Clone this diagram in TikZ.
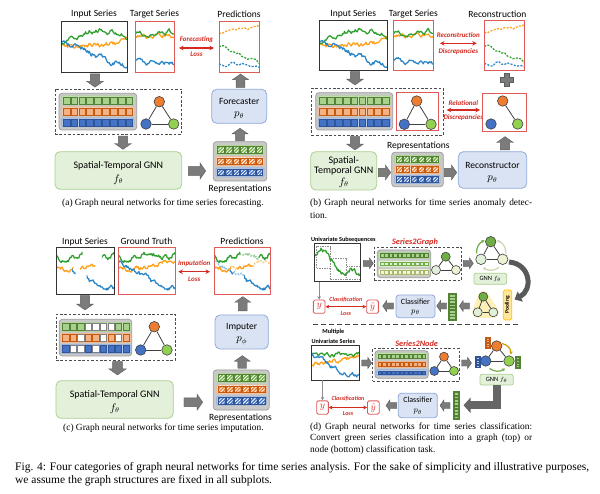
\documentclass[tikz,border=0pt]{standalone}
\usepackage{fontspec}
\setmainfont{Liberation Serif}
\newfontfamily\labf{Carlito}
\usetikzlibrary{arrows.meta,patterns.meta,calc}
\definecolor{sgc}{HTML}{2FA02F}
\definecolor{soc}{HTML}{FF9F1A}
\definecolor{sbc}{HTML}{2A86C8}
\definecolor{redb}{HTML}{E05A5A}
\definecolor{redt}{HTML}{D42A20}
\definecolor{grayf}{HTML}{C9C9C9}
\definecolor{grayd}{HTML}{9A9A9A}
\definecolor{gnnf}{HTML}{E3F0DA}
\definecolor{gnnd}{HTML}{A9D18E}
\definecolor{pbf}{HTML}{DAE3F3}
\definecolor{pbd}{HTML}{8FAADC}
\definecolor{cgf}{HTML}{A9D18E}
\definecolor{cgd}{HTML}{548235}
\definecolor{cof}{HTML}{F4B183}
\definecolor{cod}{HTML}{C55A11}
\definecolor{cbf}{HTML}{4472C4}
\definecolor{cbd}{HTML}{2F5597}
\definecolor{rgf}{HTML}{C5E0B4}
\definecolor{rgd}{HTML}{A9D18E}
\definecolor{rof}{HTML}{F8CBAD}
\definecolor{rod}{HTML}{F4B183}
\definecolor{rbf}{HTML}{B4C7E7}
\definecolor{rbd}{HTML}{8FAADC}
\definecolor{nor}{HTML}{ED7D31}
\definecolor{nbl}{HTML}{4472C4}
\definecolor{ngr}{HTML}{92D050}
\definecolor{ndg}{HTML}{70AD47}
\definecolor{npale}{HTML}{E2F0D9}
\definecolor{npy}{HTML}{EEF2D2}
\definecolor{arrf}{HTML}{7B7B7B}
\definecolor{arrd}{HTML}{5E5E5E}
\definecolor{glowc}{HTML}{FFF0B8}
\definecolor{poolf}{HTML}{FFE699}
\definecolor{poold}{HTML}{FFC000}
\definecolor{goldc}{HTML}{C9A000}
\definecolor{paleb}{HTML}{D2D2B0}
\definecolor{r2f}{HTML}{EAF4E2}
\definecolor{r2d}{HTML}{C5E0B4}
\definecolor{r3f}{HTML}{F4F7E4}
\definecolor{r3d}{HTML}{D5DDB0}
\definecolor{c2f}{HTML}{E2F0D9}
\definecolor{c2d}{HTML}{70AD47}
\definecolor{c3f}{HTML}{F2F5DC}
\definecolor{c3d}{HTML}{A9B870}

% time series: W, N, trend (in \tvv), noise, seed, style
\newcommand\tsl[6]{%
  \pgfmathsetseed{#5}%
  \def\tvv{0}\pgfmathsetmacro\tsyy{#3}\xdef\tsyy{\tsyy}%
  \draw[#6] (0,\tsyy) \foreach \ii in {1,...,#2}{\pgfextra{%
      \pgfmathsetmacro\tvv{\ii/#2}%
      \pgfmathsetmacro\tsaa{#3}%
      \pgfmathsetmacro\tsbb{\tsyy+0.3*(\tsaa-\tsyy)+1.3*#4*rand}%
      \xdef\tsyy{\tsbb}%
      \pgfmathsetmacro\tsxx{#1*\ii/#2}\xdef\tsxx{\tsxx}}
    -- (\tsxx,\tsyy)};%
}
% block arrow: x, y, angle, length, head half width
\newcommand\barr[5]{%
  \begin{scope}[shift={(#1,#2)}, rotate=#3]
    \pgfmathsetmacro\bL{#4/2}\pgfmathsetmacro\bH{#4/2-0.7*#5}\pgfmathsetmacro\bW{0.55*#5}%
    \filldraw[fill=arrf, draw=arrd, line width=0.4, line join=miter] (-\bL,-\bW) -- (\bH,-\bW) -- (\bH,-#5) -- (\bL,0) -- (\bH,#5) -- (\bH,\bW) -- (-\bL,\bW) -- cycle;
  \end{scope}}
\newcommand\frcell[4]{\draw[#1] (#2,#3) rectangle ++(#4,#4);}
% feature row: xleft, ytop, cell size, pitch, row style, cell style list
\newcommand\frow[6]{%
  \foreach \sty [count=\kk] in {#6} {\xdef\frn{\kk}}%
  \pgfmathsetmacro\frw{3.2+(\frn-1)*#4+#3}%
  \draw[#5] (#1,#2) rectangle ++(\frw,{#3+2.4});%
  \foreach \sty [count=\kk from 0] in {#6} {%
    \pgfmathsetmacro\frx{#1+1.6+\kk*#4}%
    \pgfmathsetmacro\fry{#2+1.2}%
    \expandafter\frcell\expandafter{\sty}{\frx}{\fry}{#3}}%
}
% vertical vector: x, ytop, w, h, n, bg style, cell style
\newcommand\vvec[7]{%
  \draw[#6] (#1,#2) rectangle ++(#3,#4);
  \pgfmathsetmacro\vcp{(#4-1.2)/#5}%
  \foreach \kk in {1,...,#5}{%
    \pgfmathsetmacro\vcy{#2+0.6+(\kk-1)*\vcp+0.3}%
    \pgfmathsetmacro\vcx{#1+0.9}%
    \pgfmathsetmacro\vcw{#3-1.8}%
    \pgfmathsetmacro\vch{\vcp-0.6}%
    \draw[#7] (\vcx,\vcy) rectangle ++(\vcw,\vch);}%
}
% rectangle node: style, x1, y1, x2, y2, name
\newcommand\rbx[6]{%
  \node[#1, inner sep=0, outer sep=0, anchor=north west, minimum width={(#4)-(#2)}, minimum height={(#5)-(#3)}] (#6) at (#2,#3) {};}

\newcommand\inAB[1]{%
  \tsl{#1}{70}{24-\tvv-6*max(\tvv-0.8,0)/0.2}{1.5}{12}{so}
  \tsl{#1}{70}{22-12*min(\tvv*3,1)+6*max(\tvv-0.8,0)/0.2}{1.7}{11}{sg}
  \tsl{#1}{70}{21+26*\tvv}{1.7}{13}{sb}}
\newcommand\tgAB[1]{%
  \tsl{#1}{40}{15+2*sin(\tvv*400)}{1.4}{22}{so}
  \tsl{#1}{40}{13-2*\tvv}{1.5}{21}{sg}
  \tsl{#1}{40}{41+2*\tvv}{1.5}{23}{sb}}
\newcommand\prAB[1]{%
  \tsl{#1}{14}{12-10*\tvv+7*exp(-(((\tvv-0.72)/0.08)^2))}{1.0}{31}{so,dsh}
  \tsl{#1}{14}{26+21*\tvv}{1.8}{32}{sg,dsh}
  \tsl{#1}{14}{43+3*sin(\tvv*900)}{1.5}{33}{sb,dsh}}
\newcommand\scg[2]{\tsl{#1}{66}{9-3*\tvv+3*sin(\tvv*540)}{1.7}{41}{#2}}
\newcommand\sco[2]{\tsl{#1}{66}{20-4*\tvv+2*sin(\tvv*300)}{1.5}{42}{#2}}
\newcommand\scb[2]{\tsl{#1}{66}{12+28*min(\tvv*1.4,1)}{1.7}{43}{#2}}
\newcommand\maskg[1]{\clip (-2,-5) rectangle ({0.46*#1},60) ({0.79*#1},-5) rectangle ({#1+2},60);}
\newcommand\masko[1]{\clip (-2,-5) rectangle ({0.3*#1},60) ({0.41*#1},-5) rectangle ({0.68*#1},60);}
\newcommand\maskb[1]{\clip ({0.28*#1},-5) rectangle ({0.34*#1},60) ({0.53*#1},-5) rectangle ({#1+2},60);}

\begin{document}
\begin{tikzpicture}[x=1pt,y=-1pt,
  kbox/.style={draw=black!80, line width=0.9},
  rbox/.style={draw=redb, line width=0.9},
  dbox/.style={draw=black!70, dash pattern=on 2.6pt off 1.8pt, line width=0.8},
  sbox/.style={draw=black!45, dash pattern=on 1.5pt off 1pt, line width=0.6},
  grayb/.style={draw=grayd, fill=grayf, rounded corners=3, line width=0.7},
  gnnb/.style={draw=gnnd, fill=gnnf, rounded corners=5, line width=0.8},
  gnnbs/.style={draw=gnnd, fill=gnnf, rounded corners=2, line width=0.7},
  pbox/.style={draw=pbd, fill=pbf, rounded corners=5, line width=0.8},
  pboxs/.style={draw=pbd, fill=pbf, rounded corners=3, line width=0.8},
  poolb/.style={draw=poold, fill=poolf, rounded corners=1.5, line width=0.7},
  ybox/.style={draw=redb, rounded corners=1.5, line width=0.8, minimum width=11.7pt, minimum height=13.3pt, inner sep=0, text=redt, font=\fontsize{10}{10}\selectfont},
  lab/.style={font=\labf\fontsize{9.5}{11}\selectfont, inner sep=0},
  labg/.style={font=\labf\fontsize{10}{11}\selectfont, inner sep=0},
  labm/.style={font=\fontsize{10.5}{11}\selectfont, inner sep=0},
  labs/.style={font=\labf\fontsize{8}{9}\selectfont, inner sep=0},
  labms/.style={font=\fontsize{8}{9}\selectfont, inner sep=0},
  labx/.style={font=\labf\fontsize{6.5}{7}\selectfont, inner sep=0},
  labt/.style={font=\labf\bfseries\fontsize{6.2}{7}\selectfont, inner sep=0},
  rtxt/.style={font=\labf\bfseries\itshape\fontsize{7}{8}\selectfont, text=redt, inner sep=0},
  rtxs/.style={font=\labf\bfseries\itshape\fontsize{6}{7}\selectfont, text=redt, inner sep=0},
  s2t/.style={font=\labf\bfseries\itshape\fontsize{8.3}{9}\selectfont, text=redt, inner sep=0},
  rarr/.style={draw=redt, line width=1.1, {Stealth[length=4.5pt,width=4.5pt]}-{Stealth[length=4.5pt,width=4.5pt]}},
  rarrs/.style={draw=redt, line width=1, {Stealth[length=3.8pt,width=3.8pt]}-{Stealth[length=3.8pt,width=3.8pt]}},
  tharr/.style={draw=black!45, line width=0.8, -{Stealth[length=3.5pt,width=3.5pt]}},
  garrow/.style={draw=black!65, line width=5, -{Triangle[length=6.5pt,width=11pt]}},
  Larrow/.style={draw=black!60, line width=8, line join=miter, -{Triangle[length=7pt,width=15pt]}},
  garc/.style={draw=ndg, line width=1.2, -{Stealth[length=3pt,width=3.5pt]}},
  parc/.style={draw=paleb, line width=1.2, -{Stealth[length=3pt,width=3.5pt]}},
  oarc/.style={draw=goldc, line width=1.2, -{Stealth[length=3pt,width=3.5pt]}},
  sepl/.style={draw=black!75, line width=1.3, dash pattern=on 5pt off 3pt},
  gnode/.style={circle, draw=black!75, line width=0.6, minimum size=10.5pt, inner sep=0},
  gnodes/.style={gnode, minimum size=9pt},
  gedge/.style={draw=black!75, line width=0.8},
  subcap/.style={font=\fontsize{9.4}{11}\selectfont, inner sep=0, anchor=west},
  figcap/.style={inner sep=0, anchor=west},
  sg/.style={draw=sgc, line width=1.25, line join=round},
  so/.style={draw=soc, line width=1.25, line join=round},
  sb/.style={draw=sbc, line width=1.25, line join=round},
  dsh/.style={dash pattern=on 2pt off 1.4pt},
  rg/.style={draw=rgd, fill=rgf, rounded corners=1.2, line width=0.5},
  ro/.style={draw=rod, fill=rof, rounded corners=1.2, line width=0.5},
  rb/.style={draw=rbd, fill=rbf, rounded corners=1.2, line width=0.5},
  r2/.style={draw=r2d, fill=r2f, rounded corners=1, line width=0.5},
  r3/.style={draw=r3d, fill=r3f, rounded corners=1, line width=0.5},
  cg/.style={draw=cgd, fill=cgf, line width=0.4},
  co/.style={draw=cod, fill=cof, line width=0.4},
  cb/.style={draw=cbd, fill=cbf, line width=0.4},
  cw/.style={draw=black!50, fill=white, line width=0.4},
  c2/.style={draw=c2d, fill=c2f, line width=0.4},
  c3/.style={draw=c3d, fill=c3f, line width=0.4},
  hg/.style={draw=cgd, line width=0.4, preaction={fill=ndg}, pattern={Lines[angle=45,distance=2.4pt,line width=0.8pt]}, pattern color=white},
  ho/.style={draw=cod, line width=0.4, preaction={fill=nor}, pattern={Lines[angle=45,distance=2.4pt,line width=0.8pt]}, pattern color=white},
  hb/.style={draw=cbd, line width=0.4, preaction={fill=cbf}, pattern={Lines[angle=45,distance=2.4pt,line width=0.8pt]}, pattern color=white},
  vg/.style={draw=cgd, fill=ndg, line width=0.5},
  vgc/.style={draw=cgd, fill=cgf, line width=0.3},
  vo/.style={draw=cod, fill=nor, line width=0.5},
  voc/.style={draw=cod, fill=cof, line width=0.3},
  vb/.style={draw=cbd, fill=cbf, line width=0.5},
  vbc/.style={draw=cbd, fill=rbf, line width=0.3}
]
\useasboundingbox (0,0) rectangle (600,494);
\fill[white] (0,0) rectangle (600,494);

%%%%%%%%%%%%%%%% PANEL A
\node[lab] (a-l1) at (94,14) {Input Series};
\node[lab] (a-l2) at (154.5,14) {Target Series};
\node[lab] (a-l3) at (239,14) {Predictions};
\begin{scope}[shift={(61,21)}]\clip (0,0) rectangle (66,51); \inAB{66}\end{scope}
\rbx{kbox}{61}{21}{127}{72}{a-in}
\begin{scope}[shift={(135,21)}]\clip (0,0) rectangle (39,51); \tgAB{39}\end{scope}
\rbx{rbox}{135}{21}{174}{72}{a-tg}
\begin{scope}[shift={(219,21)}]\clip (0,0) rectangle (40,51); \prAB{40}\end{scope}
\rbx{rbox}{219}{21}{259}{72}{a-pr}
\coordinate (a-f1) at (179,48);
\coordinate (a-f2) at (214,48);
\draw[rarr] (a-f1) -- (a-f2);
\node[rtxt] (a-ft1) at (196.5,39.5) {Forecasting};
\node[rtxt] (a-ft2) at (196.5,54) {Loss};
\barr{95}{80.5}{-90}{13.3}{8.3}
\rbx{dbox}{55}{89}{181.7}{134.3}{a-dash}
\rbx{grayb}{59}{93.3}{136.7}{130}{a-gray}
\frow{61.5}{96}{6.6}{7.86}{rg}{cg,cg,cg,cg,cg,cg,cg,cg,cg}
\frow{61.5}{107}{6.6}{7.86}{ro}{co,co,co,co,co,co,co,co,co}
\frow{61.5}{118}{6.6}{7.86}{rb}{cb,cb,cb,cb,cb,cb,cb,cb,cb}
\node[gnode, fill=nor] (a-go) at (159.3,101.7) {};
\node[gnode, fill=nbl] (a-gb) at (146,124) {};
\node[gnode, fill=ngr] (a-gg) at (173.7,124) {};
\draw[gedge] (a-go) -- (a-gb); \draw[gedge] (a-gb) -- (a-gg); \draw[gedge] (a-gg) -- (a-go);
\barr{123}{142.7}{-90}{13.3}{8.3}
\rbx{gnnb}{55}{151.7}{181.7}{189.3}{a-gnn}
\node[labg] (a-gnnt) at (118.3,165.7) {Spatial-Temporal GNN};
\node[labm] (a-gnnf) at (118.3,179.5) {$f_\theta$};
\barr{197}{171}{0}{17.4}{8}
\rbx{grayb}{213.3}{141.7}{266.7}{181}{a-rep}
\frow{215.8}{145.3}{6.6}{7.7}{rg}{hg,hg,hg,hg,hg,hg}
\frow{215.8}{156.6}{6.6}{7.7}{ro}{ho,ho,ho,ho,ho,ho}
\frow{215.8}{167.9}{6.6}{7.7}{rb}{hb,hb,hb,hb,hb,hb}
\node[lab] (a-rept) at (240,188.5) {Representations};
\barr{240}{134.5}{90}{12.4}{8}
\rbx{pbox}{211.7}{89.3}{266.7}{123.3}{a-fore}
\node[lab] (a-foret) at (239.2,101.7) {Forecaster};
\node[labm] (a-forep) at (239.2,115.5) {$p_\theta$};
\barr{240.5}{80.7}{90}{13.3}{8}
\node[subcap] (a-cap) at (62,203.5) {(a) Graph neural networks for time series forecasting.};

%%%%%%%%%%%%%%%% PANEL B
\node[lab] (b-l1) at (353.3,14) {Input Series};
\node[lab] (b-l2) at (413.3,14) {Target Series};
\node[lab] (b-l3) at (497.3,14) {Reconstruction};
\begin{scope}[shift={(319.3,20.5)}]\clip (0,0) rectangle (68,50); \inAB{68}\end{scope}
\rbx{kbox}{319.3}{20.5}{387.3}{70.5}{b-in}
\begin{scope}[shift={(393.3,20.5)}]\clip (0,0) rectangle (40,50); \tgAB{40}\end{scope}
\rbx{rbox}{393.3}{20.5}{433.3}{70.5}{b-tg}
\begin{scope}[shift={(484.3,20.5)}]\clip (0,0) rectangle (40,50); \prAB{40}\end{scope}
\rbx{rbox}{484.3}{20.5}{524.3}{70.5}{b-pr}
\coordinate (b-r1) at (440,43.3);
\coordinate (b-r2) at (476.7,43.3);
\draw[rarr] (b-r1) -- (b-r2);
\node[rtxt] (b-rt1) at (458.3,35) {Reconstruction};
\node[rtxt] (b-rt2) at (458.3,51.7) {Discrepancies};
\barr{355}{78.3}{-90}{13.3}{8.3}
\filldraw[fill=arrf, draw=arrd, line width=0.4] (500,77.7) -- (504.4,77.7) -- (504.4,73.3) -- (509,73.3) -- (509,77.7) -- (513.4,77.7) -- (513.4,82.3) -- (509,82.3) -- (509,86.7) -- (504.4,86.7) -- (504.4,82.3) -- (500,82.3) -- cycle;
\rbx{dbox}{311.7}{88.3}{443.3}{135}{b-dash}
\rbx{grayb}{315.7}{92.7}{392.7}{130}{b-gray}
\frow{318}{96}{6.6}{7.86}{rg}{cg,cg,cg,cg,cg,cg,cg,cg,cg}
\frow{318}{107}{6.6}{7.86}{ro}{co,co,co,co,co,co,co,co,co}
\frow{318}{118}{6.6}{7.86}{rb}{cb,cb,cb,cb,cb,cb,cb,cb,cb}
\rbx{rbox}{396}{92.7}{438.3}{130}{b-gbox}
\node[gnode, fill=nor] (b-go) at (416.7,101) {};
\node[gnode, fill=nbl] (b-gb) at (404.3,124.3) {};
\node[gnode, fill=ngr] (b-gg) at (431,124.3) {};
\draw[gedge] (b-go) -- (b-gb); \draw[gedge] (b-gb) -- (b-gg); \draw[gedge] (b-gg) -- (b-go);
\coordinate (b-d1) at (446.7,110);
\coordinate (b-d2) at (480,110);
\draw[rarr] (b-d1) -- (b-d2);
\node[rtxt] (b-dt1) at (463.3,103) {Relational};
\node[rtxt] (b-dt2) at (463.3,117.3) {Discrepancies};
\rbx{rbox}{482.7}{93.3}{526}{131.7}{b-rbox}
\node[gnode, fill=nor] (b-ro) at (502.7,101) {};
\node[gnode, fill=nbl] (b-rb) at (491,124) {};
\node[gnode, fill=ngr] (b-rg) at (517.7,124) {};
\draw[gedge] (b-ro) -- (b-rg);
\barr{505}{143.3}{90}{13.3}{8.3}
\barr{355}{143.3}{-90}{13.3}{8.3}
\rbx{gnnb}{310.7}{151.7}{376.7}{190}{b-gnn}
\node[labg] (b-gnnt1) at (343.7,160.7) {Spatial-};
\node[labg] (b-gnnt2) at (343.7,171) {Temporal GNN};
\node[labm] (b-gnnf) at (343.7,182.3) {$f_\theta$};
\barr{384.5}{172.5}{0}{12.4}{7.5}
\node[lab] (b-rept) at (418.3,145.5) {Representations};
\rbx{grayb}{391.7}{152.3}{443.3}{186.7}{b-rep}
\frow{394.5}{155.3}{6}{7.3}{rg}{hg,hg,hg,hg,hg,hg}
\frow{394.5}{165.3}{6}{7.3}{ro}{ho,ho,ho,ho,ho,ho}
\frow{394.5}{175.3}{6}{7.3}{rb}{hb,hb,hb,hb,hb,hb}
\barr{450.5}{172.5}{0}{12.4}{7.5}
\rbx{pbox}{458.3}{151.7}{526.7}{188.3}{b-rec}
\node[lab] (b-rect) at (492.5,165.7) {Reconstructor};
\node[labm] (b-recp) at (492.5,179.5) {$p_\theta$};
\node[subcap] (b-cap1) at (310,203.5) {\makebox[222pt][s]{(b) Graph neural networks for time series anomaly detec-}};
\node[subcap] (b-cap2) at (310,215) {tion.};

%%%%%%%%%%%%%%%% PANEL C
\node[lab] (c-l1) at (85,241.7) {Input Series};
\node[lab] (c-l2) at (146.5,241.7) {Ground Truth};
\node[lab] (c-l3) at (242,241.7) {Predictions};
\begin{scope}[shift={(56,247.7)}]\clip (0,0) rectangle (58,46.6);
  \begin{scope}\masko{58}\sco{58}{so}\end{scope}
  \begin{scope}\maskg{58}\scg{58}{sg}\end{scope}
  \begin{scope}\maskb{58}\scb{58}{sb}\end{scope}
\end{scope}
\rbx{kbox}{56}{247.7}{114}{294.3}{c-in}
\begin{scope}[shift={(118.3,247.7)}]\clip (0,0) rectangle (56.7,46.6);
  \sco{56.7}{so}\scg{56.7}{sg}\scb{56.7}{sb}
\end{scope}
\rbx{rbox}{118.3}{247.7}{175}{294.3}{c-gt}
\begin{scope}[shift={(214,247.7)}]\clip (0,0) rectangle (56.7,46.6);
  \sco{56.7}{so,dsh,opacity=0.55}\scg{56.7}{sg,dsh,opacity=0.55}\scb{56.7}{sb,dsh,opacity=0.55}
  \begin{scope}\masko{56.7}\sco{56.7}{so}\end{scope}
  \begin{scope}\maskg{56.7}\scg{56.7}{sg}\end{scope}
  \begin{scope}\maskb{56.7}\scb{56.7}{sb}\end{scope}
\end{scope}
\rbx{rbox}{214}{247.7}{270.7}{294.3}{c-pr}
\coordinate (c-i1) at (178.3,271.7);
\coordinate (c-i2) at (210,271.7);
\draw[rarr] (c-i1) -- (c-i2);
\node[rtxt] (c-it1) at (194.2,263.3) {Imputation};
\node[rtxt] (c-it2) at (194.2,279.5) {Loss};
\barr{85}{302.8}{-90}{14.3}{8.3}
\rbx{dbox}{56}{314.3}{175}{360}{c-dash}
\rbx{grayb}{59.3}{319.3}{131.7}{356}{c-gray}
\frow{60.8}{322.5}{6.4}{7.55}{rg}{cg,cg,cg,cw,cw,cw,cw,cg,cg}
\frow{60.8}{333.5}{6.4}{7.55}{ro}{co,co,cw,co,co,cw,co,cw,co}
\frow{60.8}{344.5}{6.4}{7.55}{rb}{cb,cw,cw,cb,cw,cb,cb,cb,cb}
\node[gnode, fill=nor] (c-go) at (154.3,326.7) {};
\node[gnode, fill=nbl] (c-gb) at (140.7,350) {};
\node[gnode, fill=ngr] (c-gg) at (167,350) {};
\draw[gedge] (c-go) -- (c-gb); \draw[gedge] (c-gb) -- (c-gg); \draw[gedge] (c-gg) -- (c-go);
\barr{117.5}{368.3}{-90}{13.3}{8.8}
\rbx{gnnb}{56}{380.7}{173.3}{418.3}{c-gnn}
\node[labg] (c-gnnt) at (114.7,395) {Spatial-Temporal GNN};
\node[labm] (c-gnnf) at (114.7,408.5) {$f_\theta$};
\barr{193.3}{402.2}{0}{18.7}{8}
\rbx{grayb}{213.3}{370}{269.3}{410}{c-rep}
\frow{216.5}{373.5}{6.6}{8}{rg}{hg,hg,hg,hg,hg,hg}
\frow{216.5}{384.8}{6.6}{8}{ro}{ho,ho,ho,ho,ho,ho}
\frow{216.5}{396.1}{6.6}{8}{rb}{hb,hb,hb,hb,hb,hb}
\node[lab] (c-rept) at (240.5,417.5) {Representations};
\barr{242.3}{362}{90}{12.6}{8}
\rbx{pbox}{215}{315}{268.3}{349}{c-imp}
\node[lab] (c-impt) at (241.7,327.3) {Imputer};
\node[labm] (c-impp) at (241.7,341) {$p_\phi$};
\barr{242.8}{303.8}{90}{14.3}{8}
\node[subcap] (c-cap) at (63,428) {(c) Graph neural networks for time series imputation.};

%%%%%%%%%%%%%%%% PANEL D (top)
\node[labt] (d-l1) at (343.3,239.6) {Univariate Subsequences};
\begin{scope}[shift={(314,243.5)}]
  \clip (0,0) rectangle (46.7,38.2);
  \draw[sbox] (2,3.2) rectangle (16.7,24.8);
  \draw[sbox] (16.7,14.8) rectangle (32.7,35.5);
  \draw[sbox] (32.7,23.2) rectangle (46,35.5);
  \tsl{46.7}{60}{12-7*min(\tvv/0.15,1)+26*max(min((\tvv-0.15)/0.4,1),0)-5*exp(-(((\tvv-0.78)/0.07)^2))}{1.4}{51}{sg}
\end{scope}
\rbx{kbox}{314}{243.5}{360.7}{281.7}{d-s1}
\barr{368.3}{263.3}{0}{10}{5.5}
\node[s2t] (d-s2g) at (415,242.7) {Series2Graph};
\rbx{dbox}{374}{247.7}{461.7}{280}{d-dash1}
\rbx{grayb}{377.3}{250}{430.7}{277.7}{d-gray1}
\frow{378.6}{252.5}{3.6}{4.4}{rg}{cg,cg,cg,cg,cg,cg,cg,cg,cg,cg,cg}
\frow{378.6}{260.8}{3.6}{4.4}{r2}{c2,c2,c2,c2,c2,c2,c2,c2,c2,c2,c2}
\frow{378.6}{269.1}{3.6}{4.4}{r3}{c3,c3,c3,c3,c3,c3,c3,c3,c3,c3,c3}
\node[gnodes, fill=ndg] (d-gt) at (445.7,256.7) {};
\node[gnodes, fill=npale] (d-gl) at (436,270) {};
\node[gnodes, fill=npy] (d-gr) at (456,270) {};
\draw[gedge] (d-gt) -- (d-gl); \draw[gedge] (d-gl) -- (d-gr); \draw[gedge] (d-gr) -- (d-gt);
\barr{468.3}{263.3}{0}{10}{5.5}
\node[gnode, fill=ndg] (d-tt) at (490.7,241.7) {};
\node[gnode, fill=npale] (d-tl) at (481,259.3) {};
\node[gnode, fill=npy] (d-tr) at (502.7,259.3) {};
\draw[gedge] (d-tt) -- (d-tl); \draw[gedge] (d-tl) -- (d-tr); \draw[gedge] (d-tr) -- (d-tt);
\coordinate (d-ga1) at (476.5,253.5);
\coordinate (d-ga2) at (484.5,240.5);
\draw[garc] (d-ga1) to[bend left=35] (d-ga2);
\coordinate (d-pa1) at (497,240.5);
\coordinate (d-pa2) at (506,253.5);
\draw[parc] (d-pa2) to[bend right=35] (d-pa1);
\coordinate (d-pb1) at (499,267.5);
\coordinate (d-pb2) at (483,267.5);
\draw[parc] (d-pb1) to[bend left=35] (d-pb2);
\rbx{gnnbs}{474}{273.3}{506.7}{284.3}{d-gnn1}
\node[labx] (d-gnn1t) at (d-gnn1) {GNN $f_\theta$};
\coordinate (d-ca1) at (509,262);
\coordinate (d-ca2) at (514.5,299.5);
\draw[garrow] (d-ca1) .. controls (531,264) and (533,290) .. (d-ca2);
\rbx{poolb}{503.3}{290}{511.7}{320}{d-pool}
\node[labt, rotate=90, font=\labf\bfseries\fontsize{5.6}{6}\selectfont] (d-poolt) at (d-pool) {Pooling};
\coordinate (d-pt) at (483.3,296.7);
\coordinate (d-pl) at (477.7,312.3);
\coordinate (d-pr) at (493.3,312.3);
\filldraw[fill=glowc, draw=glowc, line width=11, line join=round] (d-pt) -- (d-pl) -- (d-pr) -- cycle;
\node[gnodes, fill=ndg] (d-ptn) at (d-pt) {};
\node[gnodes, fill=npale] (d-pln) at (d-pl) {};
\node[gnodes, fill=npale] (d-prn) at (d-pr) {};
\draw[gedge] (d-ptn) -- (d-pln); \draw[gedge] (d-pln) -- (d-prn); \draw[gedge] (d-prn) -- (d-ptn);
\barr{464.3}{306}{180}{10}{5.5}
\vvec{448.3}{293.3}{7.7}{26.7}{8}{vg}{vgc}
\barr{441.7}{306}{180}{10}{5.5}
\rbx{pboxs}{396}{295}{435}{317.7}{d-cls1}
\node[labs] (d-cls1t) at (415.5,301.5) {Classifier};
\node[labms] (d-cls1p) at (415.5,312.3) {$p_\theta$};
\barr{388}{306}{180}{10.6}{5.5}
\node[ybox] (d-y1) at (319.2,306.7) {$y$};
\node[ybox] (d-yh1) at (372.5,306.7) {$\hat{y}$};
\draw[rarrs] (d-y1) -- (d-yh1);
\node[rtxs] (d-ct1) at (345.8,300) {Classification};
\node[rtxs] (d-ct2) at (345.8,313.5) {Loss};
\draw[tharr] (d-s1.south -| d-y1) -- (d-y1);
\coordinate (d-sep1) at (313.3,324.3);
\coordinate (d-sep2) at (518.3,324.3);
\draw[sepl] (d-sep1) -- (d-sep2);

%%%%%%%%%%%%%%%% PANEL D (bottom)
\node[labt] (d-l2) at (333.3,332.3) {Multiple};
\node[labt] (d-l3) at (333.3,341) {Univariate Series};
\begin{scope}[shift={(311.7,345)}]\clip (0,0) rectangle (47.6,35);
  \tsl{47.6}{56}{20-9*\tvv}{1.4}{62}{so}
  \tsl{47.6}{56}{10-2*\tvv}{1.4}{61}{sg}
  \tsl{47.6}{56}{8+22*min(\tvv*1.6,1)}{1.4}{63}{sb}
\end{scope}
\rbx{kbox}{311.7}{345}{359.3}{380}{d-s2}
\barr{366.7}{363}{0}{10}{5.5}
\node[s2t] (d-s2n) at (416.7,343.3) {Series2Node};
\rbx{dbox}{372.7}{348.3}{459.3}{381}{d-dash2}
\rbx{grayb}{375}{350.7}{428.3}{378.3}{d-gray2}
\frow{376.3}{353}{3.6}{4.4}{rg}{cg,cg,cg,cg,cg,cg,cg,cg,cg,cg,cg}
\frow{376.3}{361.3}{3.6}{4.4}{ro}{co,co,co,co,co,co,co,co,co,co,co}
\frow{376.3}{369.6}{3.6}{4.4}{rb}{cb,cb,cb,cb,cb,cb,cb,cb,cb,cb,cb}
\node[gnodes, fill=nor] (d-no) at (444,356.7) {};
\node[gnodes, fill=nbl] (d-nb) at (434.3,371) {};
\node[gnodes, fill=ngr] (d-ng) at (454,371) {};
\draw[gedge] (d-no) -- (d-nb); \draw[gedge] (d-nb) -- (d-ng); \draw[gedge] (d-ng) -- (d-no);
\barr{466.5}{363}{0}{10}{5.5}
\node[gnode, fill=nor] (d-bo) at (496.7,346) {};
\node[gnode, fill=nbl] (d-bb) at (485.7,361) {};
\node[gnode, fill=ngr] (d-bg) at (509,361) {};
\draw[gedge] (d-bo) -- (d-bb); \draw[gedge] (d-bb) -- (d-bg); \draw[gedge] (d-bg) -- (d-bo);
\vvec{485.7}{337.2}{4.6}{11}{4}{vo}{voc}
\vvec{475}{356.5}{5}{11.2}{4}{vb}{vbc}
\vvec{515}{356.5}{5}{11.8}{4}{vg}{vgc}
\coordinate (d-oa1) at (502,343.5);
\coordinate (d-oa2) at (511,354.5);
\draw[oarc] (d-oa1) to[bend left=40] (d-oa2);
\coordinate (d-ba1) at (489.5,368.5);
\coordinate (d-ba2) at (505,368.5);
\draw[garc] (d-ba1) to[bend right=35] (d-ba2);
\rbx{gnnbs}{480}{374.3}{513.3}{385}{d-gnn2}
\node[labx] (d-gnn2t) at (d-gnn2) {GNN $f_\theta$};
\coordinate (d-Lend) at (463.5,405.3);
\draw[Larrow] (d-gnn2.south) |- (d-Lend);
\vvec{453.3}{391.7}{6}{27.6}{8}{vg}{vgc}
\barr{445}{405.5}{180}{10}{5.5}
\rbx{pboxs}{398.3}{393.3}{437.3}{417.7}{d-cls2}
\node[labs] (d-cls2t) at (417.8,399.5) {Classifier};
\node[labms] (d-cls2p) at (417.8,411.7) {$p_\theta$};
\barr{391.3}{405.5}{180}{10.6}{5.5}
\node[ybox] (d-y2) at (322.5,407.5) {$y$};
\node[ybox] (d-yh2) at (373.3,407.5) {$\hat{y}$};
\draw[rarrs] (d-y2) -- (d-yh2);
\node[rtxs] (d-ct3) at (348,398.7) {Classification};
\node[rtxs] (d-ct4) at (348,413.7) {Loss};
\draw[tharr] (d-s2.south -| d-y2) -- (d-y2);
\node[subcap] (d-cap1) at (310,427) {\makebox[222pt][s]{(d) Graph neural networks for time series classification:}};
\node[subcap] (d-cap2) at (310,438.5) {\makebox[222pt][s]{Convert green series classification into a graph (top) or}};
\node[subcap] (d-cap3) at (310,450) {node (bottom) classification task.};

%%%%%%%%%%%%%%%% FIGURE CAPTION
\node[figcap] (fig) at (15,474.5) {\resizebox{574pt}{!}{\fontsize{11}{12}\selectfont\begin{tabular}{@{}l@{}}Fig. 4: Four categories of graph neural networks for time series analysis. For the sake of simplicity and illustrative purposes,\\ we assume the graph structures are fixed in all subplots.\end{tabular}}};
\end{tikzpicture}
\end{document}
